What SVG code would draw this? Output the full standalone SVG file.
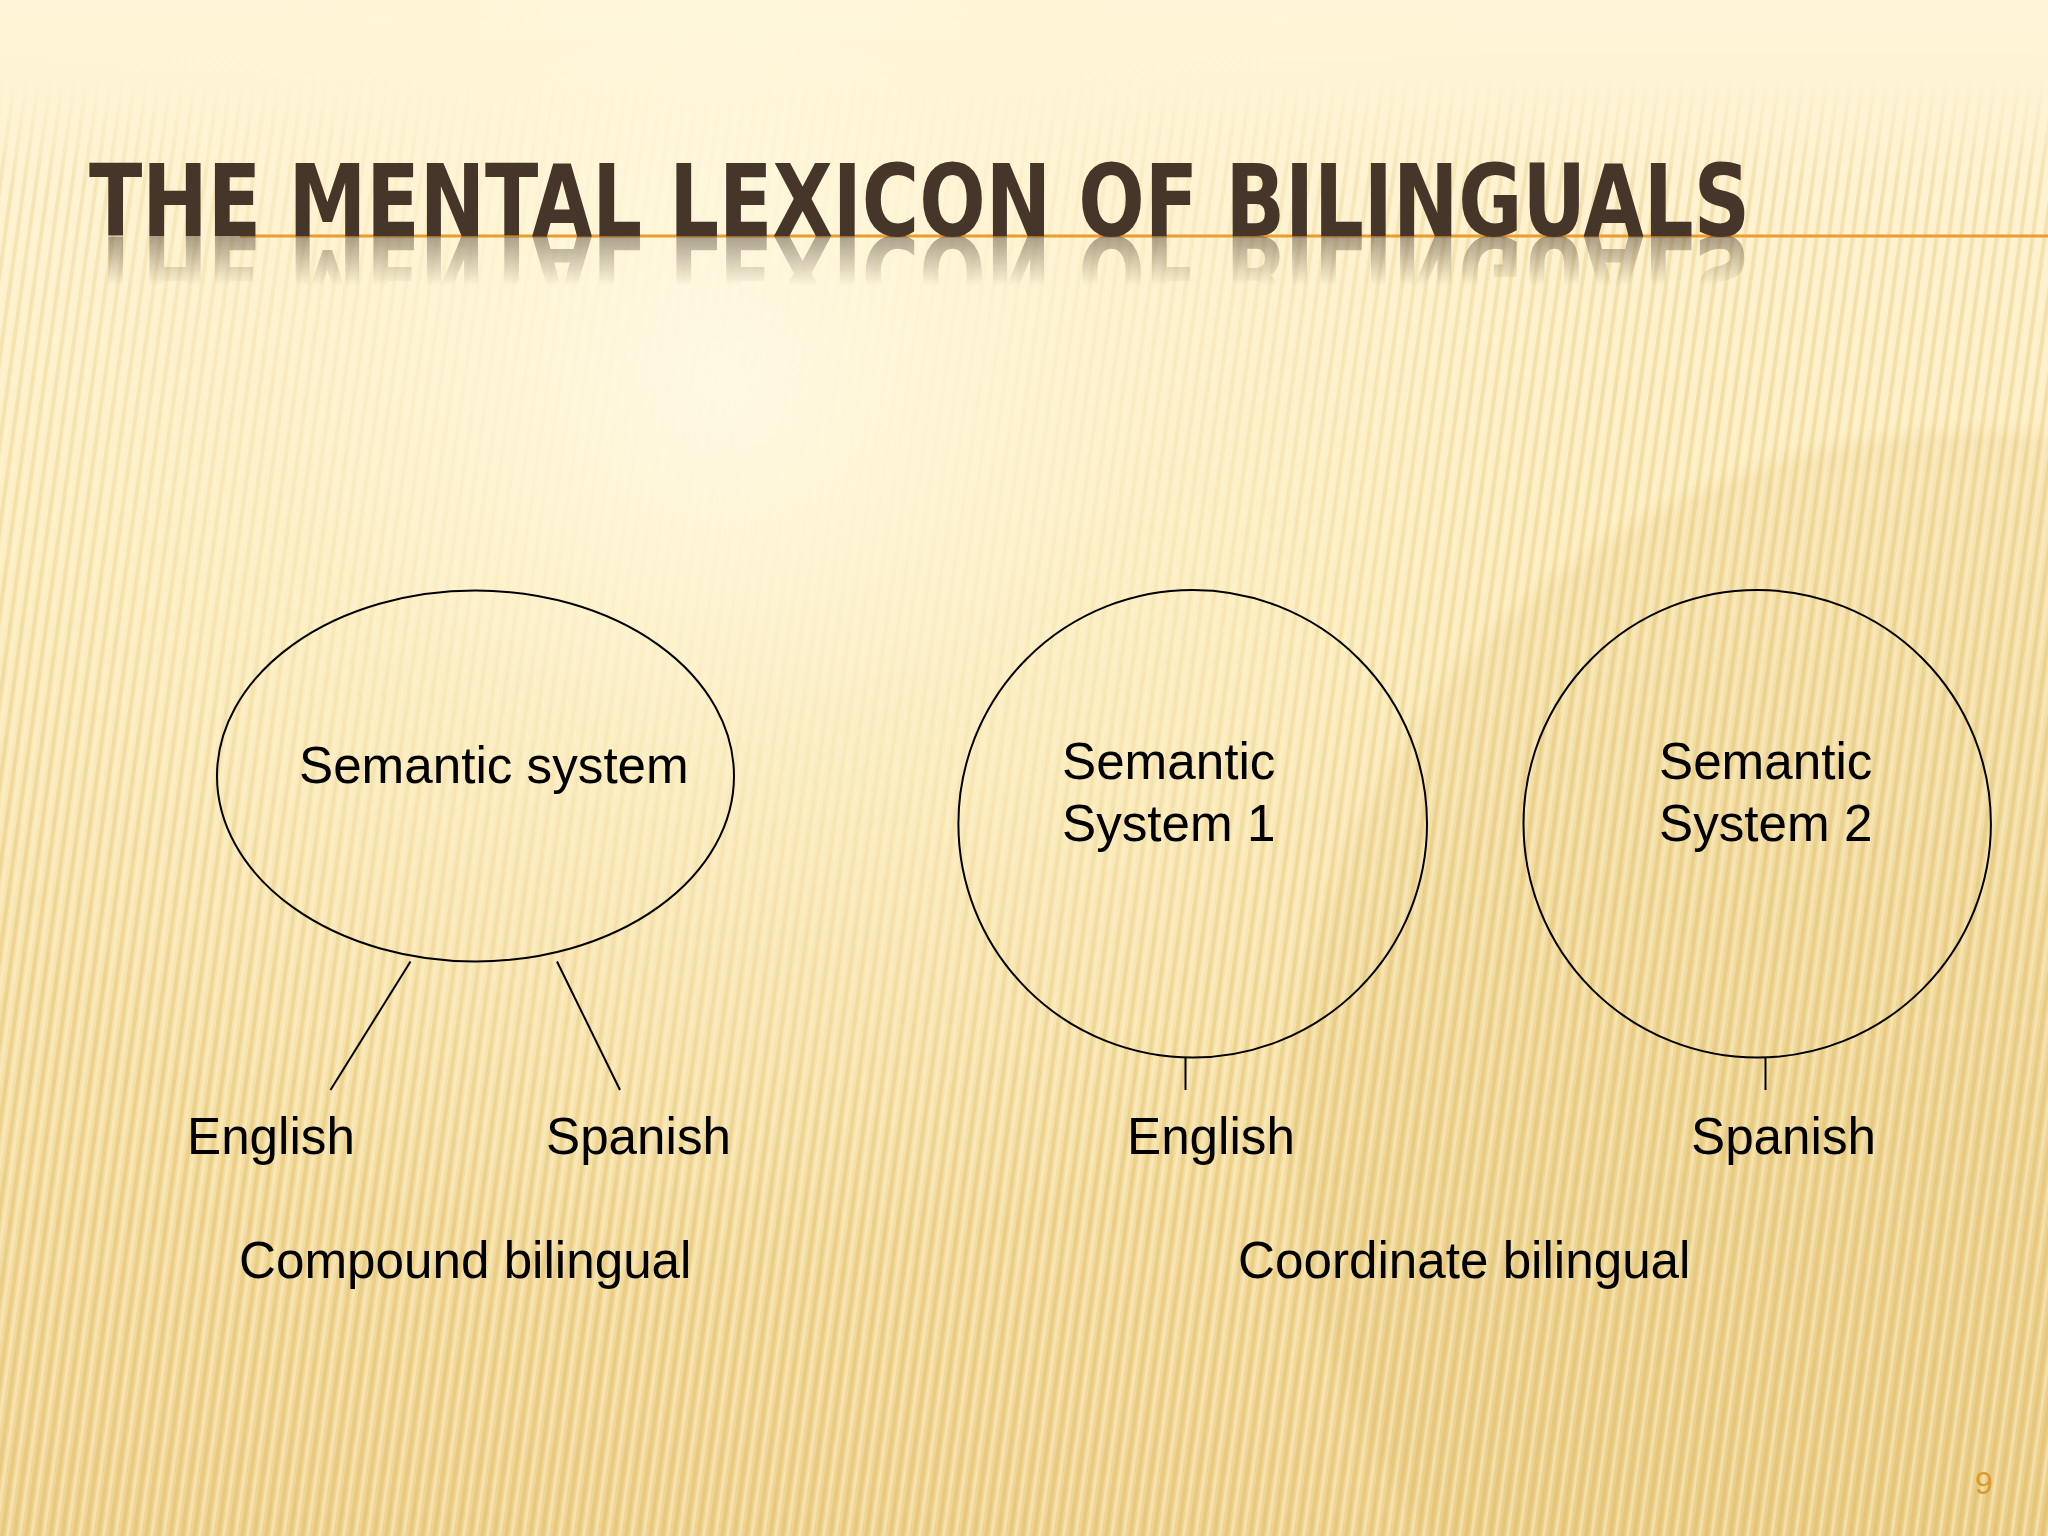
<svg xmlns="http://www.w3.org/2000/svg" xmlns:xlink="http://www.w3.org/1999/xlink" width="2048" height="1536" viewBox="0 0 2048 1536">
<defs>
<style>
.lbl{font-family:"Liberation Sans",Arial,sans-serif;font-size:51.2px;fill:#000}
.shape{fill:none;stroke:#000;stroke-width:2}
.conn{stroke:#000;stroke-width:2;fill:none}
.title{font-family:"Liberation Sans Narrow","DejaVu Sans Condensed","Liberation Sans",sans-serif;font-weight:bold;font-size:100px;fill:#46362a}
</style>
<linearGradient id="bg" x1="0" y1="0" x2="0" y2="1">
<stop offset="0" stop-color="#fef5d8"/>
<stop offset="0.35" stop-color="#fcedbf"/>
<stop offset="0.7" stop-color="#f5e0a6"/>
<stop offset="1" stop-color="#efd491"/>
</linearGradient>
<radialGradient id="glow" cx="720" cy="380" r="900" gradientUnits="userSpaceOnUse">
<stop offset="0" stop-color="#fffbe8" stop-opacity="0.85"/>
<stop offset="0.5" stop-color="#fff6d6" stop-opacity="0.35"/>
<stop offset="1" stop-color="#fff6d6" stop-opacity="0"/>
</radialGradient>
<radialGradient id="arc" cx="1980" cy="1120" r="700" gradientUnits="userSpaceOnUse">
<stop offset="0" stop-color="#d9b968" stop-opacity="0.25"/>
<stop offset="0.97" stop-color="#d9b968" stop-opacity="0.18"/>
<stop offset="1" stop-color="#d9b968" stop-opacity="0"/>
</radialGradient>
<pattern id="stripes" width="12" height="40" patternUnits="userSpaceOnUse" patternTransform="skewX(-8)">
<rect x="0" y="0" width="4" height="40" fill="#dcb660"/>
<rect x="6" y="0" width="3" height="40" fill="#fff8dc"/>
</pattern>
<linearGradient id="stripeFadeV" x1="0" y1="0" x2="0" y2="1">
<stop offset="0" stop-color="#fff" stop-opacity="0"/>
<stop offset="0.05" stop-color="#fff" stop-opacity="0"/>
<stop offset="0.12" stop-color="#fff" stop-opacity="0.7"/>
<stop offset="1" stop-color="#fff" stop-opacity="1"/>
</linearGradient>
<radialGradient id="stripeFadeC" cx="760" cy="420" r="700" gradientUnits="userSpaceOnUse">
<stop offset="0" stop-color="#000" stop-opacity="1"/>
<stop offset="1" stop-color="#000" stop-opacity="0"/>
</radialGradient>
<mask id="stripeMask">
<rect width="2048" height="1536" fill="url(#stripeFadeV)"/>
<rect width="2048" height="1536" fill="url(#stripeFadeC)"/>
</mask>
<linearGradient id="reflFade" x1="0" y1="0" x2="0" y2="1">
<stop offset="0" stop-color="#fff" stop-opacity="0.5"/>
<stop offset="1" stop-color="#fff" stop-opacity="0"/>
</linearGradient>
<mask id="reflMask" maskUnits="userSpaceOnUse" x="0" y="0" width="2048" height="1536">
<rect x="0" y="236" width="2048" height="50" fill="url(#reflFade)"/>
</mask>
</defs>

<g id="background">
<rect width="2048" height="1536" fill="url(#bg)"/>
<circle cx="1980" cy="1120" r="700" fill="url(#arc)"/>
<rect width="2048" height="1536" fill="url(#stripes)" opacity="0.38" mask="url(#stripeMask)"/>
<rect width="2048" height="1536" fill="url(#glow)"/>
</g>

<g id="title">
<line x1="240" y1="236" x2="2048" y2="236" stroke="#eb9c2c" stroke-width="3"/>
<g mask="url(#reflMask)" opacity="0.9">
<use xlink:href="#titleText" href="#titleText" transform="translate(0,472) scale(1,-1)"/>
</g>
<text id="titleText" class="title" x="89" y="236" textLength="1661" lengthAdjust="spacingAndGlyphs">THE MENTAL LEXICON OF BILINGUALS</text>
</g>

<g id="connectors">
<line class="conn" x1="410.5" y1="961.5" x2="330.5" y2="1090"/>
<line class="conn" x1="557" y1="961.5" x2="620" y2="1090"/>
<line class="conn" x1="1185.5" y1="1057.5" x2="1185.5" y2="1090"/>
<line class="conn" x1="1765.5" y1="1057.5" x2="1765.5" y2="1090"/>
</g>

<g id="node-semantic-system">
<ellipse class="shape" cx="475.5" cy="776" rx="258.5" ry="185.5"/>
<text class="lbl" x="299" y="783">Semantic system</text>
</g>

<g id="node-semantic-system-1">
<ellipse class="shape" cx="1192.7" cy="823.8" rx="234.3" ry="233.8"/>
<text class="lbl" x="1062" y="779">Semantic</text>
<text class="lbl" x="1062" y="840.5">System 1</text>
</g>

<g id="node-semantic-system-2">
<ellipse class="shape" cx="1757.2" cy="823.8" rx="233.7" ry="233.8"/>
<text class="lbl" x="1659" y="779">Semantic</text>
<text class="lbl" x="1659" y="840.5">System 2</text>
</g>

<g id="node-english-compound"><text class="lbl" x="187" y="1154">English</text></g>
<g id="node-spanish-compound"><text class="lbl" x="546" y="1154">Spanish</text></g>
<g id="node-english-coordinate"><text class="lbl" x="1127" y="1154">English</text></g>
<g id="node-spanish-coordinate"><text class="lbl" x="1691" y="1154">Spanish</text></g>

<g id="caption-compound"><text class="lbl" x="239" y="1278">Compound bilingual</text></g>
<g id="caption-coordinate"><text class="lbl" x="1238" y="1278">Coordinate bilingual</text></g>

<g id="page-number"><text x="1975" y="1494" font-family="Liberation Sans, Arial, sans-serif" font-size="32" fill="#da9a2e">9</text></g>
</svg>
